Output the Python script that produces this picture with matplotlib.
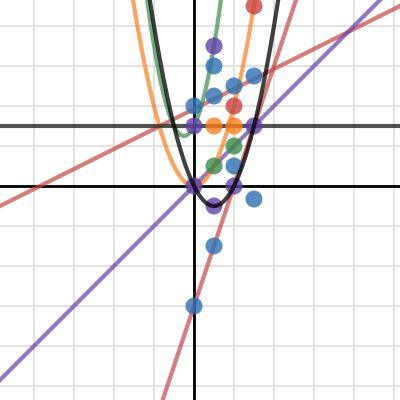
import numpy as np
import matplotlib
matplotlib.use('Agg')
import matplotlib.pyplot as plt

# points (x, y) by colour
blue_x = [0, 1, 1, 2, 3, 2, 3, 1, 0]
blue_y = [4, 6, 4.5, 5, 5.5, 1, -0.65, -3, -6]
purple_x = [1, 0, 3, 0, 2, 1]
purple_y = [7, 3, 3, 0, 0, -1]
orange_x = [1, 2]
orange_y = [3, 3]
red_x = [3, 2]
red_y = [9, 4]
green_x = [2, 1]
green_y = [2, 1]

RED, BLUE, GREEN, PURPLE, ORANGE = '#c74440', '#2d70b3', '#388c46', '#6042a6', '#fa7e19'

fig = plt.figure(figsize=(4, 4), dpi=100)
ax = fig.add_axes([0, 0, 1, 1])
xmin, xmax, ymin, ymax = -9.7, 10.3, -10.7, 9.3
ax.set_xlim(xmin, xmax)
ax.set_ylim(ymin, ymax)
for v in np.arange(-8, 11, 2):
    ax.axvline(v, color='#dddddd', lw=1.2, zorder=0)
for v in np.arange(-10, 10, 2):
    ax.axhline(v, color='#dddddd', lw=1.2, zorder=0)
ax.axvline(0, color='black', lw=2, zorder=1)
ax.axhline(0, color='black', lw=2, zorder=1)

x = np.linspace(xmin, xmax, 800)
kw = dict(lw=3, alpha=0.7, zorder=2)
ax.plot(x, 3 * x - 6, color=RED, **kw)
ax.plot(x, 0.5 * x + 3.85, color=RED, **kw)
ax.plot(x, x, color=PURPLE, **kw)
ax.plot(x, x ** 2, color=ORANGE, **kw)
ax.plot(x, 2 * (x + 0.5) ** 2 + 2.5, color=GREEN, **kw)
ax.axhline(3, color='#333333', lw=3, alpha=0.85, zorder=2)
ax.plot(x, (x - 1) ** 2 - 1, color='black', lw=3, alpha=0.75, zorder=4)

skw = dict(s=150, alpha=0.8, edgecolors='none', zorder=3)
ax.scatter(blue_x, blue_y, color=BLUE, **skw)
ax.scatter(purple_x, purple_y, color=PURPLE, **skw)
ax.scatter(orange_x, orange_y, color=ORANGE, **skw)
ax.scatter(red_x, red_y, color=RED, **skw)
ax.scatter(green_x, green_y, color=GREEN, **skw)

ax.set_xticks([])
ax.set_yticks([])
for s in ax.spines.values():
    s.set_visible(False)
fig.savefig('out.png', dpi=100)
